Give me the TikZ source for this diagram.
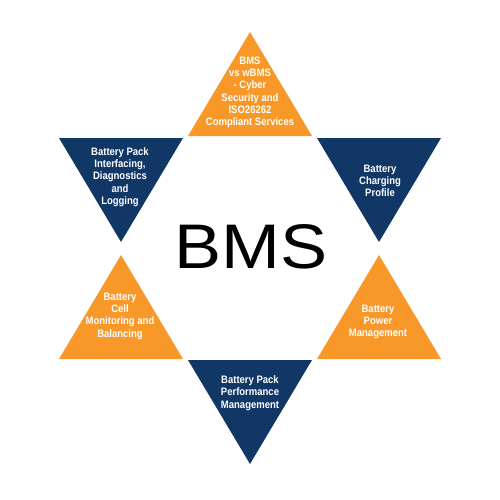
\documentclass[tikz,border=0pt]{standalone}
\usepackage{fontspec}
\setmainfont{Liberation Sans}
\newfontfamily\lblfont[FakeStretch=0.88]{Liberation Sans}
\newfontfamily\bigfont[FakeStretch=1.12]{Liberation Sans}
\usepackage{xcolor}
\usetikzlibrary{positioning}
\definecolor{bmsorange}{RGB}{247,152,41}
\definecolor{bmsnavy}{RGB}{16,55,102}

\begin{document}
\begin{tikzpicture}[x=1pt, y=-1pt,
  uptri/.style={fill=bmsorange},
  downtri/.style={fill=bmsnavy},
  lbl/.style={text=white, font=\lblfont\bfseries\fontsize{10.8}{12.3}\selectfont,
              align=center, inner sep=0pt},
  bigtxt/.style={font=\bigfont\fontsize{63}{63}\selectfont, text=black, inner sep=0pt},
]
\useasboundingbox (0,0) rectangle (500,500);

% orange triangles (apex up)
\fill[uptri] (250,32)  -- (188,136) -- (312,136) -- cycle;
\fill[uptri] (121,255) -- (59,359)  -- (183,359) -- cycle;
\fill[uptri] (379,255) -- (317,359) -- (441,359) -- cycle;

% navy triangles (apex down)
\fill[downtri] (59,138)  -- (183,138) -- (121,242) -- cycle;
\fill[downtri] (317,138) -- (441,138) -- (379,242) -- cycle;
\fill[downtri] (188,360) -- (312,360) -- (250,464) -- cycle;

% centre title
\node[bigtxt, anchor=base] (bms) at (251,268) {BMS};

% labels
\node[lbl] (cyber) at (250,92.5) {BMS\\vs wBMS\\- Cyber\\Security and\\ISO26262\\Compliant Services};
\node[lbl] (iface) at (120,177) {Battery Pack\\Interfacing,\\Diagnostics\\and\\Logging};
\node[lbl] (charge) at (380,181) {Battery\\Charging\\Profile};
\node[lbl] (cell) at (120,316) {Battery\\Cell\\Monitoring and\\Balancing};
\node[lbl] (power) at (378,322) {Battery\\Power\\Management};
\node[lbl] (perf) at (250,393) {Battery Pack\\Performance\\Management};
\end{tikzpicture}
\end{document}
